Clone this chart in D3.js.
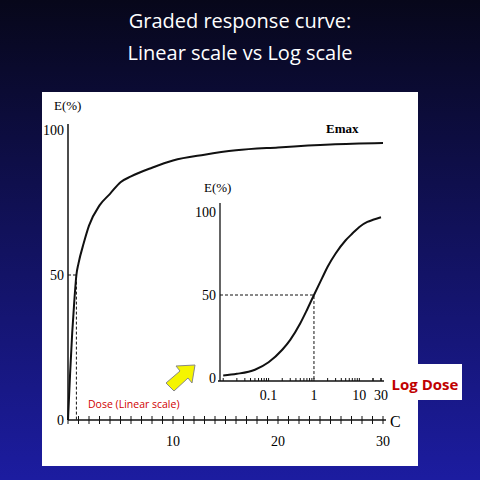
<!DOCTYPE html><html><head><meta charset="utf-8"><script src="https://cdn.jsdelivr.net/npm/d3@7"></script>
<style>body{margin:0;background:#000}svg{display:block}</style></head><body><svg width="480" height="480"></svg><script>
const titleLines=["Graded response curve:","Linear scale vs Log scale"];
const linDose=[0,0.2,0.4,0.6,0.8,1.0,1.5,2,3,4,5,6,8,10,13,16,20,25,30];
const linEffect=[0,16,30,41,50,54,61,67,74,78,82,84,87,89.5,91.5,93,94,95,95.5];
const logDose=[0.01,0.02,0.05,0.1,0.2,0.3,0.5,0.7,1,1.5,2,3,5,7,10,15,20,30];
const logEffect=[1.5,2.5,5,9.5,17,23,33,41,50,60,67,75,83,87,91,94,95.3,96.8];
const linTicks=[10,20,30], logTicks=[0.1,1,10,30], yTicks=[0,50,100];
const svg=d3.select("svg");
const defs=svg.append("defs");
const g=defs.append("linearGradient").attr("id","bg").attr("x1",0).attr("x2",0).attr("y1",0).attr("y2",1);
g.append("stop").attr("offset","0%").attr("stop-color","#07071a");
g.append("stop").attr("offset","100%").attr("stop-color","#1c1ca0");
svg.append("rect").attr("width",480).attr("height",480).attr("fill","url(#bg)");
svg.selectAll(".t").data(titleLines).join("text").attr("x",240).attr("y",(d,i)=>28+i*32).attr("text-anchor","middle")
 .attr("fill","#fff").attr("font-family","Open Sans, sans-serif").attr("font-size",20).text(d=>d);
svg.append("rect").attr("x",42).attr("y",92).attr("width",376).attr("height",374).attr("fill","#fff");
svg.append("rect").attr("x",390).attr("y",364).attr("width",72).attr("height",36).attr("fill","#fff");
svg.append("text").attr("x",425).attr("y",390).attr("text-anchor","middle").attr("fill","#c00000").attr("font-family","Open Sans, sans-serif").attr("font-weight","bold").attr("font-size",15).text("Log Dose");
const serif="Liberation Serif, serif";
const x=d3.scaleLinear().domain([0,30]).range([68,383]);
const y=d3.scaleLinear().domain([0,100]).range([420,130]);
const m=svg.append("g");
m.append("line").attr("x1",68).attr("x2",68).attr("y1",420).attr("y2",124).attr("stroke","#111").attr("stroke-width",1.5);
m.append("line").attr("x1",68).attr("x2",386).attr("y1",420).attr("y2",420).attr("stroke","#111").attr("stroke-width",1.5);
m.selectAll(".mt").data(d3.range(0,31)).join("line").attr("x1",d=>x(d)).attr("x2",d=>x(d)).attr("y1",416).attr("y2",424).attr("stroke","#111");
m.selectAll(".ml").data(linTicks).join("text").attr("x",d=>x(d)).attr("y",446).attr("text-anchor","middle").attr("font-family",serif).attr("font-size",14).text(d=>d);
m.selectAll(".yl").data(yTicks).join("text").attr("x",64).attr("y",d=>y(d)+5).attr("text-anchor","end").attr("font-family",serif).attr("font-size",14).text(d=>d);
m.append("text").attr("x",54).attr("y",110).attr("font-family",serif).attr("font-size",13).text("E(%)");
m.append("text").attr("x",390).attr("y",427).attr("font-family",serif).attr("font-size",16).text("C");
m.append("text").attr("x",326).attr("y",133).attr("font-family",serif).attr("font-size",13).attr("font-weight","bold").text("Emax");
m.append("path").attr("d",`M${x(0)},${y(50)}H${x(0.8)}V${y(0)}`).attr("fill","none").attr("stroke","#111").attr("stroke-dasharray","3,2");
m.append("path").datum(linDose.map((d,i)=>[d,linEffect[i]])).attr("d",d3.line().x(d=>x(d[0])).y(d=>y(d[1])).curve(d3.curveMonotoneX)).attr("fill","none").attr("stroke","#111").attr("stroke-width",2);
m.append("text").attr("x",88).attr("y",408).attr("fill","#d00000").attr("font-family","Open Sans, sans-serif").attr("font-size",10.5).text("Dose (Linear scale)");
const lx=d3.scaleLog().domain([0.0085,30]).range([220,381]);
const ly=d3.scaleLinear().domain([0,100]).range([378,212]);
const n=svg.append("g");
n.append("line").attr("x1",220).attr("x2",220).attr("y1",381).attr("y2",203).attr("stroke","#111").attr("stroke-width",1.3);
n.append("line").attr("x1",218).attr("x2",384).attr("y1",381).attr("y2",381).attr("stroke","#111").attr("stroke-width",1.3);
const minor=[];[0.01,0.1,1,10].forEach(b=>d3.range(1,10).forEach(k=>{const v=b*k;if(v>=0.01&&v<=30)minor.push(v)}));minor.push(20,30);
n.selectAll(".lt").data(minor).join("line").attr("x1",d=>lx(d)).attr("x2",d=>lx(d)).attr("y1",378).attr("y2",381).attr("stroke","#111");
n.selectAll(".ll").data(logTicks).join("text").attr("x",d=>lx(d)).attr("y",400).attr("text-anchor","middle").attr("font-family",serif).attr("font-size",14).text(d=>d);
n.selectAll(".yl").data(yTicks).join("text").attr("x",216).attr("y",d=>ly(d)+5).attr("text-anchor","end").attr("font-family",serif).attr("font-size",14).text(d=>d);
n.append("text").attr("x",204).attr("y",192).attr("font-family",serif).attr("font-size",13).text("E(%)");
n.append("path").attr("d",`M${lx(0.0085)},${ly(50)}H${lx(1)}V${ly(0)+3}`).attr("fill","none").attr("stroke","#111").attr("stroke-dasharray","3,2");
n.append("path").datum(logDose.map((d,i)=>[d,logEffect[i]])).attr("d",d3.line().x(d=>lx(d[0])).y(d=>ly(d[1])).curve(d3.curveMonotoneX)).attr("fill","none").attr("stroke","#111").attr("stroke-width",2);
svg.append("path").attr("d","M166,383 L180,371 L176,366 L195,365 L192,383 L188,378 L174,391 Z").attr("fill","#f5f500").attr("stroke","#888").attr("stroke-width",1);
</script></body></html>
